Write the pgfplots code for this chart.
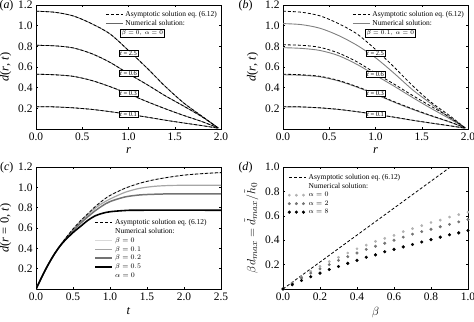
\documentclass[border=0pt]{standalone}
\usepackage{fontspec}
\setmainfont{Liberation Serif}
\usepackage{pgfplots}
\pgfplotsset{compat=1.18}

\pgfplotsset{
  base/.style={
    scale only axis,
    axis line style={line width=0.6pt},
    tick style={line width=0.5pt, black},
    major tick length=2.5pt,
    tick align=inside,
    /pgf/number format/assume math mode=true,
    /pgf/number format/fixed, /pgf/number format/fixed zerofill, /pgf/number format/precision=1,
    ticklabel style={font=\fontsize{11.5}{11.5}\selectfont},
    label style={font=\fontsize{12.5}{13}\selectfont},
    legend cell align=left,
    legend style={draw=none, fill=none, font=\fontsize{7.5}{8}\selectfont, inner sep=1pt, row sep=-1.5pt},
  },
}
\tikzset{
  asym/.style={black, line width=0.8pt, dash pattern=on 3pt off 2pt},
  tbox/.style={draw=black, fill=white, line width=0.6pt, inner sep=1pt, font=\fontsize{6.5}{6.5}\selectfont},
}

\begin{document}
\begin{tikzpicture}
\path[use as bounding box] (0,0) rectangle (474bp,-322bp);

% ---------------- (a)
\begin{axis}[base, at={(36bp,-129bp)}, anchor=south west, width=185bp, height=124bp,
  xmin=0, xmax=2, ymin=0, ymax=1.2,
  xtick={0,0.5,1.0,1.5,2.0}, ytick={0.2,0.4,0.6,0.8,1.0,1.2},
  xlabel={\textit{r}}, ylabel={\textit{d}(\textit{r}, \textit{t})},
  legend style={at={(0.995,0.975)}, anchor=north east}]
\addlegendimage{asym}\addlegendentry{Asymptotic solution eq.\ (6.12)}
\addlegendimage{black!60, line width=0.8pt}\addlegendentry{Numerical solution:}
\addplot[black!60, line width=0.8pt, smooth, forget plot] coordinates {(0,1.14) (0.2,1.13) (0.4,1.095) (0.6,1.02) (0.8,0.92) (1.0,0.76) (1.2,0.59) (1.4,0.41) (1.6,0.25) (1.8,0.12) (1.97,0.01)};
\addplot[black!60, line width=0.8pt, smooth, forget plot] coordinates {(0,0.81) (0.2,0.805) (0.4,0.785) (0.6,0.73) (0.8,0.645) (1.0,0.535) (1.2,0.43) (1.4,0.32) (1.6,0.22) (1.8,0.115) (1.97,0.01)};
\addplot[black!60, line width=0.8pt, smooth, forget plot] coordinates {(0,0.53) (0.2,0.525) (0.4,0.51) (0.6,0.47) (0.8,0.41) (1.0,0.34) (1.2,0.265) (1.4,0.195) (1.6,0.13) (1.8,0.07) (1.97,0.01)};
\addplot[black!60, line width=0.8pt, smooth, forget plot] coordinates {(0,0.216) (0.2,0.214) (0.4,0.205) (0.6,0.19) (0.8,0.168) (1.0,0.142) (1.2,0.115) (1.4,0.085) (1.6,0.058) (1.8,0.032) (1.97,0.008)};
\addplot[asym, smooth, forget plot] coordinates {(0,1.14) (0.2,1.13) (0.4,1.095) (0.6,1.02) (0.8,0.92) (1.0,0.76) (1.2,0.59) (1.4,0.41) (1.6,0.25) (1.8,0.12) (1.97,0.01)};
\addplot[asym, smooth, forget plot] coordinates {(0,0.81) (0.2,0.805) (0.4,0.785) (0.6,0.73) (0.8,0.645) (1.0,0.535) (1.2,0.43) (1.4,0.32) (1.6,0.22) (1.8,0.115) (1.97,0.01)};
\addplot[asym, smooth, forget plot] coordinates {(0,0.53) (0.2,0.525) (0.4,0.51) (0.6,0.47) (0.8,0.41) (1.0,0.34) (1.2,0.265) (1.4,0.195) (1.6,0.13) (1.8,0.07) (1.97,0.01)};
\addplot[asym, smooth, forget plot] coordinates {(0,0.216) (0.2,0.214) (0.4,0.205) (0.6,0.19) (0.8,0.168) (1.0,0.142) (1.2,0.115) (1.4,0.085) (1.6,0.058) (1.8,0.032) (1.97,0.008)};
\node[tbox] at (axis cs:1.0,0.73) {\textit{t} = 2.5};
\node[tbox] at (axis cs:1.0,0.54) {\textit{t} = 0.6};
\node[tbox] at (axis cs:1.0,0.345) {\textit{t} = 0.3};
\node[tbox] at (axis cs:1.0,0.145) {\textit{t} = 0.1};
\node[tbox] at (axis cs:1.15,0.925) {$\beta = 0,\ \alpha = 0$};
\end{axis}

% ---------------- (b)
\begin{axis}[base, at={(283bp,-129bp)}, anchor=south west, width=185bp, height=124bp,
  xmin=0, xmax=2, ymin=0, ymax=1.2,
  xtick={0,0.5,1.0,1.5,2.0}, ytick={0.2,0.4,0.6,0.8,1.0,1.2},
  xlabel={\textit{r}}, ylabel={\textit{d}(\textit{r}, \textit{t})},
  legend style={at={(0.995,0.975)}, anchor=north east}]
\addlegendimage{asym}\addlegendentry{Asymptotic solution eq.\ (6.12)}
\addlegendimage{black!50, line width=0.8pt}\addlegendentry{Numerical solution:}
\addplot[black!50, line width=0.9pt, smooth, forget plot] coordinates {(0,1.02) (0.2,1.01) (0.4,0.975) (0.6,0.905) (0.8,0.81) (1.0,0.69) (1.2,0.54) (1.4,0.38) (1.6,0.245) (1.8,0.11) (1.97,0.012)};
\addplot[black!50, line width=0.9pt, smooth, forget plot] coordinates {(0,0.787) (0.2,0.78) (0.4,0.76) (0.6,0.71) (0.8,0.625) (1.0,0.52) (1.2,0.415) (1.4,0.305) (1.6,0.2) (1.8,0.1) (1.97,0.01)};
\addplot[black!50, line width=0.9pt, smooth, forget plot] coordinates {(0,0.525) (0.2,0.52) (0.4,0.505) (0.6,0.465) (0.8,0.405) (1.0,0.335) (1.2,0.26) (1.4,0.19) (1.6,0.127) (1.8,0.068) (1.97,0.01)};
\addplot[black!50, line width=0.9pt, smooth, forget plot] coordinates {(0,0.215) (0.2,0.213) (0.4,0.204) (0.6,0.189) (0.8,0.167) (1.0,0.141) (1.2,0.114) (1.4,0.084) (1.6,0.057) (1.8,0.031) (1.97,0.008)};
\addplot[asym, smooth, forget plot] coordinates {(0,1.14) (0.2,1.13) (0.4,1.095) (0.6,1.02) (0.8,0.92) (1.0,0.77) (1.2,0.6) (1.4,0.42) (1.6,0.26) (1.8,0.13) (1.97,0.01)};
\addplot[asym, smooth, forget plot] coordinates {(0,0.815) (0.2,0.81) (0.4,0.79) (0.6,0.735) (0.8,0.65) (1.0,0.54) (1.2,0.435) (1.4,0.325) (1.6,0.22) (1.8,0.115) (1.97,0.01)};
\addplot[asym, smooth, forget plot] coordinates {(0,0.53) (0.2,0.525) (0.4,0.51) (0.6,0.47) (0.8,0.41) (1.0,0.34) (1.2,0.265) (1.4,0.195) (1.6,0.13) (1.8,0.07) (1.97,0.01)};
\addplot[asym, smooth, forget plot] coordinates {(0,0.216) (0.2,0.214) (0.4,0.205) (0.6,0.19) (0.8,0.168) (1.0,0.142) (1.2,0.115) (1.4,0.085) (1.6,0.058) (1.8,0.032) (1.97,0.008)};
\node[tbox] at (axis cs:1.0,0.73) {\textit{t} = 2.5};
\node[tbox] at (axis cs:1.0,0.53) {\textit{t} = 0.6};
\node[tbox] at (axis cs:1.0,0.345) {\textit{t} = 0.3};
\node[tbox] at (axis cs:1.0,0.145) {\textit{t} = 0.1};
\node[tbox] at (axis cs:1.16,0.925) {$\beta = 0.1,\ \alpha = 0$};
\end{axis}

% ---------------- (c)
\begin{axis}[base, at={(36bp,-289bp)}, anchor=south west, width=185bp, height=122bp,
  xmin=0, xmax=2.5, ymin=0, ymax=1.2,
  xtick={0,0.5,1.0,1.5,2.0,2.5}, ytick={0.2,0.4,0.6,0.8,1.0,1.2},
  xlabel={\textit{t}}, ylabel={\textit{d}(\textit{r} = 0, \textit{t})},
  legend style={at={(0.31,0.6)}, anchor=north west}]
\addlegendimage{asym}\addlegendentry{Asymptotic solution eq.\ (6.12)}
\addlegendimage{empty legend}\addlegendentry{Numerical solution:}
\addlegendimage{black!15, line width=1.2pt}\addlegendentry{$\beta = 0$}
\addlegendimage{black!35, line width=1.2pt}\addlegendentry{$\beta = 0.1$}
\addlegendimage{black!55, line width=1.5pt}\addlegendentry{$\beta = 0.2$}
\addlegendimage{black, line width=1.6pt}\addlegendentry{$\beta = 0.5$}
\addlegendimage{empty legend}\addlegendentry{$\alpha = 0$}
\addplot[black!15, line width=1.2pt, smooth, forget plot] coordinates {(0,0) (0.05,0.075) (0.1,0.15) (0.15,0.22) (0.2,0.285) (0.25,0.345) (0.3,0.4) (0.35,0.45) (0.4,0.5) (0.5,0.59) (0.6,0.67) (0.7,0.74) (0.8,0.81) (0.9,0.87) (1.0,0.92) (1.2,0.99) (1.4,1.04) (1.6,1.075) (1.8,1.1) (2.0,1.12) (2.25,1.135) (2.5,1.145)};
\addplot[black!35, line width=1.2pt, smooth, forget plot] coordinates {(0,0) (0.05,0.075) (0.1,0.15) (0.15,0.22) (0.2,0.285) (0.25,0.345) (0.3,0.4) (0.35,0.45) (0.4,0.497) (0.5,0.583) (0.6,0.66) (0.7,0.73) (0.8,0.795) (0.9,0.845) (1.0,0.885) (1.2,0.95) (1.4,0.99) (1.6,1.01) (1.8,1.018) (2.0,1.02) (2.5,1.02)};
\addplot[black!55, line width=1.5pt, smooth, forget plot] coordinates {(0,0) (0.05,0.075) (0.1,0.15) (0.15,0.22) (0.2,0.285) (0.25,0.345) (0.3,0.4) (0.35,0.448) (0.4,0.492) (0.5,0.573) (0.6,0.645) (0.7,0.71) (0.8,0.77) (0.9,0.82) (1.0,0.86) (1.2,0.905) (1.4,0.925) (1.6,0.932) (1.8,0.935) (2.5,0.935)};
\addplot[black, line width=1.6pt, smooth, forget plot] coordinates {(0,0) (0.05,0.075) (0.1,0.15) (0.15,0.22) (0.2,0.285) (0.25,0.345) (0.3,0.398) (0.35,0.445) (0.4,0.485) (0.5,0.555) (0.6,0.615) (0.7,0.675) (0.8,0.72) (0.9,0.745) (1.0,0.76) (1.2,0.772) (1.4,0.775) (2.5,0.775)};
\addplot[asym, smooth, forget plot] coordinates {(0,0) (0.05,0.075) (0.1,0.15) (0.15,0.22) (0.2,0.285) (0.25,0.345) (0.3,0.4) (0.35,0.45) (0.4,0.5) (0.5,0.59) (0.6,0.67) (0.7,0.74) (0.8,0.81) (0.9,0.87) (1.0,0.92) (1.2,0.99) (1.4,1.04) (1.6,1.075) (1.8,1.1) (2.0,1.12) (2.25,1.135) (2.5,1.145)};
\end{axis}

% ---------------- (d)
\begin{axis}[base, at={(283bp,-289bp)}, anchor=south west, width=185bp, height=122bp,
  xmin=0, xmax=1, ymin=0, ymax=1,
  xtick={0,0.2,0.4,0.6,0.8,1.0}, ytick={0.2,0.4,0.6,0.8,1.0},
  xlabel={$\beta$}, ylabel={$\beta d_{max} = \tilde{d}_{max}/\tilde{h}_0$},
  ylabel style={font=\fontsize{12.5}{12.5}\selectfont},
  legend style={at={(0.02,0.97)}, anchor=north west}]
\addlegendimage{asym}\addlegendentry{Asymptotic solution eq.\ (6.12)}
\addlegendimage{empty legend}\addlegendentry{Numerical solution:}
\addlegendimage{only marks, mark=*, mark size=1.2pt, black!30, legend image code/.code={\draw[mark=*] plot coordinates {(0cm,0cm) (0.25cm,0cm) (0.5cm,0cm)};}}\addlegendentry{$\alpha = 0$}
\addlegendimage{only marks, mark=*, mark size=1.3pt, black!55, legend image code/.code={\draw[mark=*] plot coordinates {(0cm,0cm) (0.25cm,0cm) (0.5cm,0cm)};}}\addlegendentry{$\alpha = 2$}
\addlegendimage{only marks, mark=*, mark size=1.4pt, black, legend image code/.code={\draw[mark=*] plot coordinates {(0cm,0cm) (0.25cm,0cm) (0.5cm,0cm)};}}\addlegendentry{$\alpha = 8$}
\addplot[asym, forget plot] coordinates {(0,0) (0.905,1.0)};
\addplot[only marks, mark=*, mark size=1.2pt, black!30, forget plot] coordinates {(0,0) (0.05,0.05) (0.1,0.1) (0.15,0.145) (0.2,0.185) (0.25,0.225) (0.3,0.26) (0.35,0.295) (0.4,0.33) (0.45,0.36) (0.5,0.39) (0.55,0.415) (0.6,0.44) (0.65,0.47) (0.7,0.495) (0.75,0.52) (0.8,0.545) (0.85,0.565) (0.9,0.59) (0.95,0.61) (1.0,0.63)};
\addplot[only marks, mark=*, mark size=1.3pt, black!55, forget plot] coordinates {(0,0) (0.05,0.045) (0.1,0.09) (0.15,0.13) (0.2,0.165) (0.25,0.2) (0.3,0.235) (0.35,0.265) (0.4,0.295) (0.45,0.325) (0.5,0.35) (0.55,0.375) (0.6,0.4) (0.65,0.425) (0.7,0.45) (0.75,0.47) (0.8,0.49) (0.85,0.51) (0.9,0.53) (0.95,0.55) (1.0,0.57)};
\addplot[only marks, mark=*, mark size=1.4pt, black, forget plot] coordinates {(0,0) (0.05,0.035) (0.1,0.07) (0.15,0.1) (0.2,0.13) (0.25,0.16) (0.3,0.185) (0.35,0.21) (0.4,0.235) (0.45,0.26) (0.5,0.28) (0.55,0.305) (0.6,0.325) (0.65,0.345) (0.7,0.365) (0.75,0.385) (0.8,0.405) (0.85,0.425) (0.9,0.445) (0.95,0.46) (1.0,0.48)};
\end{axis}

% panel labels
\node[anchor=east, font=\fontsize{12}{12}\selectfont] at (17bp,-6bp) {(\textit{a})};
\node[anchor=east, font=\fontsize{12}{12}\selectfont] at (256bp,-6bp) {(\textit{b})};
\node[anchor=east, font=\fontsize{12}{12}\selectfont] at (17bp,-168bp) {(\textit{c})};
\node[anchor=east, font=\fontsize{12}{12}\selectfont] at (256bp,-168bp) {(\textit{d})};
\end{tikzpicture}
\end{document}
